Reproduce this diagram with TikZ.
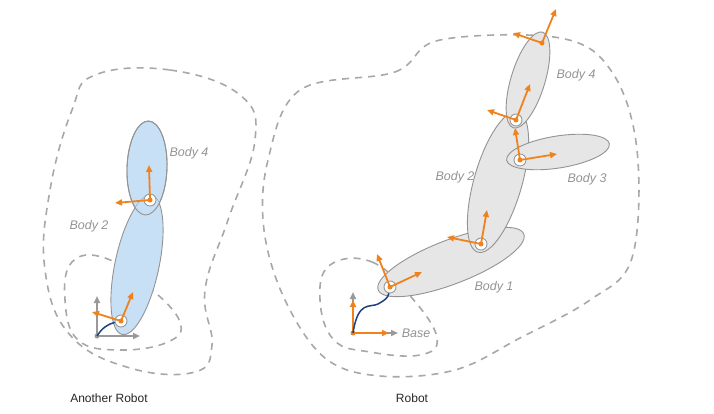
\documentclass[tikz,border=0pt]{standalone}
\usepackage{fontspec}
\setmainfont{Liberation Sans}
\usetikzlibrary{arrows.meta}
\definecolor{org}{HTML}{F0821E}
\definecolor{dgray}{HTML}{A8A8A8}
\definecolor{lblue}{HTML}{C8E0F6}
\definecolor{lgray}{HTML}{E6E6E6}
\definecolor{navy}{HTML}{1F3F7F}
\begin{document}
\begin{tikzpicture}[x=1pt,y=-1pt,
  region/.style={draw=dgray,line width=1.6pt,dash pattern=on 7pt off 6pt},
  body/.style={draw=gray!85,line width=0.9pt},
  ax/.style={draw=org,line width=1.8pt,-{Triangle[length=7pt,width=6pt]}},
  gax/.style={draw=gray!80,line width=1.8pt,-{Triangle[length=7pt,width=6pt]}},
  lbl/.style={font=\itshape\fontsize{12.5}{14}\selectfont,text=gray!85},
  captxt/.style={font=\fontsize{12}{14}\selectfont,text=gray!30!black}]
\useasboundingbox (0,0) rectangle (714,414);
% regions
\draw[region] plot[smooth cycle,tension=0.7] coordinates {(95,75) (170,70) (240,95) (255,140) (228,220) (205,290) (212,345) (195,372) (130,368) (70,335) (45,270) (50,190) (72,110)};
\draw[region] plot[smooth cycle,tension=0.7] coordinates {(72,262) (105,258) (150,288) (180,322) (168,342) (120,350) (78,340) (65,300)};
\draw[region] plot[smooth cycle,tension=0.6] coordinates {(300,90) (395,72) (440,40) (560,38) (612,72) (637,150) (632,258) (590,300) (520,338) (455,370) (380,376) (325,358) (285,300) (264,230) (268,160)};
\draw[region] plot[smooth cycle,tension=0.7] coordinates {(330,265) (372,262) (412,298) (437,338) (420,355) (370,352) (334,340) (320,300)};
% left bodies
\draw[body,fill=lblue] (147,168) ellipse[x radius=20,y radius=47,rotate=-2];
\draw[body,fill=lblue] (137,265) ellipse[x radius=22,y radius=71,rotate=-12];
\begin{scope}
\clip (147,168) ellipse[x radius=20,y radius=47,rotate=-2];
\fill[lblue] (137,265) ellipse[x radius=22,y radius=71,rotate=-12];
\end{scope}
\draw[body] (147,168) ellipse[x radius=20,y radius=47,rotate=-2];
% right bodies
\draw[body,fill=lgray] (451,262) ellipse[x radius=78,y radius=22,rotate=21];
\draw[body,fill=lgray] (498,182) ellipse[x radius=73,y radius=24,rotate=74];
\draw[body,fill=lgray] (528,80) ellipse[x radius=50,y radius=17,rotate=73];
\draw[body,fill=lgray] (558,152) ellipse[x radius=52,y radius=16,rotate=9];
% joints
\foreach \n/\p in {jl1/{(121,321)},jl2/{(150,200)},j1/{(390,287)},j2/{(481,244)},j4/{(516,120)},j3/{(520,160)}}{
  \node[circle,draw=gray!80,line width=0.9pt,fill=white,minimum size=12pt,inner sep=0pt] (\n) at \p {};
  \fill[org] (\n) circle (2.5pt);}
\coordinate (jt) at (542,43);
\fill[org] (jt) circle (2.5pt);
% bases
\coordinate (bl) at (97,336); \coordinate (blu) at (97,296); \coordinate (blr) at (140,336);
\draw[gax] (bl) -- (blu); \draw[gax] (bl) -- (blr);
\fill[gray!80] (bl) circle (2.5pt);
\draw[navy,line width=1.5pt] (bl) .. controls (102,328) and (108,324) .. (jl1);
\coordinate (br) at (353,333); \coordinate (bru) at (353,292); \coordinate (brr) at (398,333);
\coordinate (bou) at (353,300); \coordinate (bor) at (389,333);
\draw[gax] (br) -- (bru); \draw[gax] (br) -- (brr);
\draw[ax] (br) -- (bou); \draw[ax] (br) -- (bor);
\fill[org] (br) circle (2.5pt);
\draw[navy,line width=1.5pt] (br) .. controls (358,300) and (370,308) .. (378,304) .. controls (385,300) and (388,298) .. (j1);
% frames
\foreach \j/\a/\b in {jl1/{(133,292)}/{(92,312)}, jl2/{(149,165)}/{(115,203)}, j1/{(377,254)}/{(422,272)}, j2/{(487,210)}/{(447,237)}, j4/{(530,84)}/{(487,110)}, j3/{(515,128)}/{(557,154)}, jt/{(556,9)}/{(513,33)}}{
  \draw[ax] (\j.center) -- \a; \draw[ax] (\j.center) -- \b;}
% labels
\node[lbl] (l1) at (189,153) {Body 4};
\node[lbl] (l2) at (89,226) {Body 2};
\node[lbl] (r4) at (576,75) {Body 4};
\node[lbl] (r2) at (455,177) {Body 2};
\node[lbl] (r3) at (587,179) {Body 3};
\node[lbl] (r1) at (494,287) {Body 1};
\node[lbl] (rb) at (416,333) {Base};
\node[captxt] (c1) at (109,398) {Another Robot};
\node[captxt] (c2) at (412,398) {Robot};
\end{tikzpicture}
\end{document}
